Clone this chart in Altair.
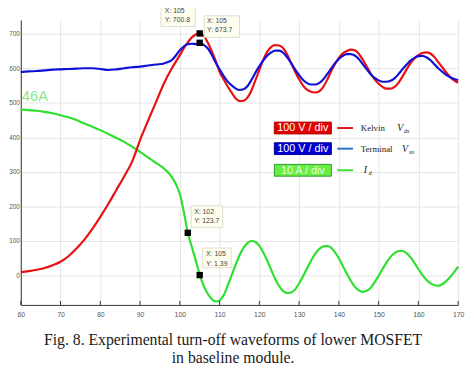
import altair as alt
import pandas as pd

# ---------------- data ----------------
x_ticks = list(range(60, 171, 10))
y_ticks = list(range(0, 701, 100))

red_t = [60, 62, 64, 66, 68, 70, 72, 74, 76, 78, 80, 82, 84, 86, 88, 89, 90, 92, 94, 96, 98,
         100, 101, 102, 103, 104, 105, 106, 107, 108, 109, 110, 111, 112, 113, 114, 115, 116, 117,
         118, 119, 120, 121, 122, 123, 124, 125, 126, 127, 128, 129, 130, 131, 132, 133, 134, 135,
         136, 137, 138, 139, 140, 141, 142, 143, 144, 145, 146, 147, 148, 149, 150, 151, 152, 153,
         154, 155, 156, 157, 158, 159, 160, 161, 162, 163, 164, 165, 166, 167, 168, 169, 170]
red_v = [10, 13, 17, 22, 30, 40, 56, 78, 104, 135, 170, 207, 247, 287, 330, 360, 392, 448, 502, 556, 600,
         638, 658, 675, 689, 698, 701, 695, 675, 650, 622, 590, 568, 548, 530, 513, 505, 506, 515,
         535, 565, 595, 625, 648, 662, 667, 666, 658, 640, 615, 590, 568, 550, 538, 532, 530, 533,
         545, 565, 590, 612, 630, 643, 650, 654, 652, 642, 625, 605, 585, 568, 555, 546, 541, 541,
         546, 558, 576, 596, 614, 628, 638, 644, 646, 643, 633, 618, 603, 588, 575, 565, 558]

blue_t = [60, 62, 64, 66, 68, 70, 72, 74, 76, 78, 80, 82, 84, 86, 88, 90, 92, 94, 96, 97, 98, 99,
          100, 101, 102, 103, 104, 105, 106, 107, 108, 109, 110, 111, 112, 113, 114, 115, 116, 117,
          118, 119, 120, 121, 122, 123, 124, 125, 126, 127, 128, 129, 130, 131, 132, 133, 134, 135,
          136, 137, 138, 139, 140, 141, 142, 143, 144, 145, 146, 147, 148, 149, 150, 151, 152, 153,
          154, 155, 156, 157, 158, 159, 160, 161, 162, 163, 164, 165, 166, 167, 168, 169, 170]
blue_v = [589, 591, 592, 594, 596, 597, 598, 599, 600, 600, 598, 595, 597, 600, 603, 605, 608, 611, 614, 618, 624, 637,
          652, 663, 670, 671, 670, 673, 668, 658, 640, 617, 597, 578, 562, 551, 542, 537, 539, 548,
          566, 587, 606, 623, 637, 646, 651, 651, 645, 632, 615, 597, 580, 566, 557, 553, 553, 557,
          567, 582, 598, 614, 627, 636, 641, 641, 637, 627, 612, 597, 583, 572, 565, 561, 561, 564,
          571, 583, 597, 610, 622, 630, 635, 636, 632, 624, 612, 600, 590, 581, 574, 569, 566]

green_t = [60, 62, 64, 66, 68, 70, 72, 74, 76, 78, 80, 82, 84, 86, 88, 90, 92, 94, 96, 97, 98, 99,
           100, 101, 102, 103, 104, 105, 106, 107, 108, 109, 110, 111, 112, 113, 114, 115, 116, 117,
           118, 119, 120, 121, 122, 123, 124, 125, 126, 127, 128, 129, 130, 131, 132, 133, 134, 135,
           136, 137, 138, 139, 140, 141, 142, 143, 144, 145, 146, 147, 148, 149, 150, 151, 152, 153,
           154, 155, 156, 157, 158, 159, 160, 161, 162, 163, 164, 165, 166, 167, 168, 169, 170]
green_v = [481, 479, 477, 474, 470, 464, 458, 450, 440, 431, 421, 410, 399, 387, 373, 358, 342, 326, 310, 299, 285, 265,
           236, 185, 124, 84, 44, 3, -30, -52, -68, -75, -72, -58, -30, 0, 30, 58, 80, 94,
           100, 97, 86, 67, 43, 16, -10, -31, -45, -51, -49, -40, -23, -2, 21, 43, 62, 76,
           84, 86, 81, 68, 50, 28, 6, -15, -32, -43, -47, -44, -35, -19, -1, 19, 38, 54,
           65, 71, 71, 65, 53, 37, 19, 2, -12, -22, -28, -29, -25, -16, -4, 10, 26]

tip_x = [105, 105, 102, 105]
tip_y = [700.8, 673.7, 123.7, 1.39]
tip_text = ["X: 105\nY: 700.8", "X: 105\nY: 673.7", "X: 102\nY: 123.7", "X: 105\nY: 1.39"]

legend_units = ["100 V / div", "100 V / div", "10 A / div"]
legend_names = ["Kelvin", "Terminal", ""]
legend_sym = ["V", "V", "I"]
legend_sub = ["ds", "sn", "d"]

caption_lines = ["Fig. 8. Experimental turn-off waveforms of lower MOSFET", "in baseline module."]

# ---------------- styles ----------------
series_names = ["green", "red", "blue"]
series_colors = ["#2EE02E", "#E81010", "#1010D8"]
box_fill = ["#E00000", "#0000D0", "#66EE44"]
box_stroke = ["#B00000", "#00009A", "#2E9A2E"]
box_text = ["#FFFFFF", "#FFFFFF", "#E8FFE8"]
seg_colors = ["#E01818", "#2A6FD0", "#33DD33"]

W, H = 445, 290
XD = [60, 170]
YD = [-85, 740]
SH = -3  # horizontal shift of annotations relative to plot origin

frames = []
for name, t, v in [("green", green_t, green_v), ("red", red_t, red_v), ("blue", blue_t, blue_v)]:
    frames.append(pd.DataFrame({"t": t, "v": v, "s": name, "o": series_names.index(name)}))
df = pd.concat(frames, ignore_index=True)

xs = alt.Scale(domain=XD, nice=False, zero=False)
ys = alt.Scale(domain=YD, nice=False, zero=False)

x_axis = alt.Axis(values=x_ticks, title=None, grid=True, gridColor="#e4e4e4", domainColor="#333333",
                  ticks=False, labelFontSize=7, labelColor="#555555", labelPadding=6,
                  labelFlush=False, labelOverlap=False, labelFont="Liberation Sans")
y_axis = alt.Axis(values=y_ticks, title=None, grid=True, gridColor="#e4e4e4", domainColor="#333333",
                  ticks=False, labelFontSize=6.5, labelColor="#555555", labelPadding=1.5,
                  labelFlush=False, labelOverlap=False, labelFont="Liberation Sans")

lines = alt.Chart(df).mark_line(strokeWidth=2.2, interpolate="monotone").encode(
    x=alt.X("t:Q", scale=xs, axis=x_axis),
    y=alt.Y("v:Q", scale=ys, axis=y_axis),
    color=alt.Color("s:N", scale=alt.Scale(domain=series_names, range=series_colors), legend=None),
    detail="s:N",
    order="o:Q",
)

# inward ticks on x axis
tick_df = pd.DataFrame({"t": x_ticks})
xticks = alt.Chart(tick_df).mark_rule(color="#333333", strokeWidth=1).encode(
    x=alt.X("t:Q", scale=xs), y=alt.value(H), y2=alt.value(H - 4)
)

tips_df = pd.DataFrame({"t": tip_x, "v": tip_y, "label": tip_text})
markers = alt.Chart(tips_df).mark_square(size=42, color="black", opacity=1, filled=True).encode(
    x=alt.X("t:Q", scale=xs), y=alt.Y("v:Q", scale=ys)
)

# datatip layout: (box dx, box dy, box w, box h, text dx, text dy)
tip_layout = [(-22, -19, 35, 24, -35.5, -27),
              (22.5, -16.5, 36, 22, 7.5, -26),
              (19.5, -16.5, 32, 22, 6.5, -25),
              (17.5, -17.5, 29, 20, 6.5, -25)]
tip_layers = []
for i, (bdx, bdy, bw, bh, tdx, tdy) in enumerate(tip_layout):
    sub = tips_df.iloc[[i]]
    r = bh / bw
    path = f"M-1,-{r:.3f}H1V{r:.3f}H-1Z"
    box = alt.Chart(sub).mark_point(shape=path, size=bw * bw, filled=True, fill="#FFFFF0",
                                    stroke="#d6d6c6", strokeWidth=0.8, opacity=1,
                                    xOffset=bdx, yOffset=bdy).encode(
        x=alt.X("t:Q", scale=xs), y=alt.Y("v:Q", scale=ys))
    txt = alt.Chart(sub).mark_text(align="left", baseline="top", dx=tdx, dy=tdy, fontSize=7,
                                   lineHeight=9.5, lineBreak="\n", color="#444444",
                                   font="Liberation Sans").encode(
        x=alt.X("t:Q", scale=xs), y=alt.Y("v:Q", scale=ys), text="label:N")
    tip_layers += [box, txt]

# custom legend (pixel positions computed here)
row_y = [110, 131, 153]
leg = pd.DataFrame({
    "unit": legend_units, "name": legend_names, "sym": legend_sym, "sub": legend_sub,
    "y": row_y, "y0": [y - 6 for y in row_y], "y1": [y + 6 for y in row_y],
    "bx0": [261 + SH] * 3, "bx1": [319 + SH] * 3, "bxc": [290 + SH] * 3,
    "lx0": [325 + SH] * 3, "lx1": [341 + SH] * 3,
    "nx": [349 + SH] * 3, "vx": [386 + SH, 391 + SH, 352 + SH], "sx": [393 + SH, 398 + SH, 357 + SH],
    "fill": box_fill, "stroke": box_stroke, "tcol": box_text, "lcol": seg_colors,
})

leg_box = alt.Chart(leg).mark_rect(strokeWidth=1).encode(
    x=alt.X("bx0:Q", scale=None), x2="bx1:Q",
    y=alt.Y("y0:Q", scale=None), y2="y1:Q",
    fill=alt.Fill("fill:N", scale=None), stroke=alt.Stroke("stroke:N", scale=None))
leg_unit = alt.Chart(leg).mark_text(fontSize=11, font="Liberation Sans", baseline="middle", dy=0.5).encode(
    x=alt.X("bxc:Q", scale=None), y=alt.Y("y:Q", scale=None), text="unit:N",
    color=alt.Color("tcol:N", scale=None))
leg_seg = alt.Chart(leg).mark_rule(strokeWidth=2).encode(
    x=alt.X("lx0:Q", scale=None), x2="lx1:Q", y=alt.Y("y:Q", scale=None),
    color=alt.Color("lcol:N", scale=None))
leg_name = alt.Chart(leg).mark_text(fontSize=9, font="Liberation Serif", align="left", baseline="middle",
                                    color="#222222").encode(
    x=alt.X("nx:Q", scale=None), y=alt.Y("y:Q", scale=None), text="name:N")
leg_sym = alt.Chart(leg).mark_text(fontSize=10, font="Liberation Serif", fontStyle="italic", align="left",
                                   baseline="middle", color="#222222").encode(
    x=alt.X("vx:Q", scale=None), y=alt.Y("y:Q", scale=None), text="sym:N")
leg_sub = alt.Chart(leg).mark_text(fontSize=6, font="Liberation Serif", fontStyle="italic", align="left",
                                   baseline="middle", dy=3, color="#222222").encode(
    x=alt.X("sx:Q", scale=None), y=alt.Y("y:Q", scale=None), text="sub:N")

label46 = alt.Chart(pd.DataFrame({"s": ["46A"]})).mark_text(
    fontSize=15, font="Liberation Sans", color="#88E888", align="left", baseline="alphabetic").encode(
    x=alt.value(1), y=alt.value(83), text="s:N")

cap_df = pd.DataFrame({"line": caption_lines, "py": [331, 349]})
caption = alt.Chart(cap_df).mark_text(fontSize=16, font="Liberation Serif", color="#1a1a1a",
                                      baseline="alphabetic").encode(
    x=alt.value(219 + SH), y=alt.Y("py:Q", scale=None), text="line:N")

chart = alt.layer(
    lines, xticks, markers, *tip_layers,
    leg_box, leg_unit, leg_seg, leg_name, leg_sym, leg_sub,
    label46, caption,
).properties(
    width=W, height=H,
    autosize=alt.AutoSizeParams(type="none"),
    padding={"left": 13, "top": 9, "right": 8, "bottom": 58},
).configure_view(strokeWidth=0)

chart.save("out.html", embed_options={"renderer": "svg", "actions": False})
